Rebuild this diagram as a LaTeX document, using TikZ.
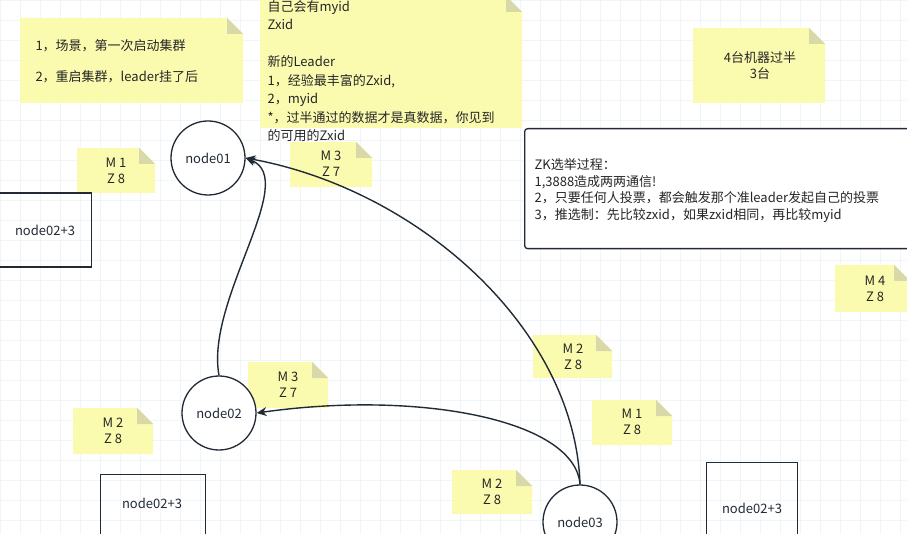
\documentclass[tikz,border=0pt]{standalone}
\usepackage{fontspec}
\setmainfont{Liberation Sans}
\newfontfamily\cjk{Noto Sans CJK SC}
\usetikzlibrary{arrows.meta}
\definecolor{noteY}{HTML}{FBFBB0}
\definecolor{foldG}{HTML}{D8D8A8}
\definecolor{lineC}{HTML}{222A36}
\definecolor{gridC}{HTML}{EEF6FA}
\tikzset{
  circ/.style={draw=lineC,line width=1.3pt,circle,minimum size=74pt,inner sep=0pt,font=\cjk\fontsize{13}{15}\selectfont,text=lineC},
  boxn/.style={draw=lineC,line width=1.3pt,font=\cjk\fontsize{13}{15}\selectfont,text=lineC},
  conn/.style={draw=lineC,line width=1.4pt,-{Stealth[length=10pt,width=9pt]}},
  ntext/.style={font=\cjk\fontsize{13}{16}\selectfont,text=black!85,align=center}
}
\newcommand{\stick}[4]{%
  \fill[noteY] (#1,#2) -- (#3-16,#2) -- (#3,#2+16) -- (#3,#4) -- (#1,#4) -- cycle;
  \fill[foldG] (#3-16,#2) -- (#3,#2+16) -- (#3-16,#2+16) -- cycle;}
\begin{document}
\begin{tikzpicture}[x=1pt,y=-1pt]
\useasboundingbox (0,0) rectangle (907,534);
\fill[white] (0,0) rectangle (907,534);
\draw[gridC,step=20pt] (0,0) grid (907,534);
% notes
\stick{20}{18}{243}{103}
\node[ntext,anchor=west,align=left] at (32,46) {1，场景，第一次启动集群};
\node[ntext,anchor=west,align=left] at (32,77) {2，重启集群，leader挂了后};
\stick{260}{-4}{522}{128}
\node[ntext,anchor=north west,align=left,font=\cjk\fontsize{13}{18.5}\selectfont] (txt) at (264,-3) {自己会有myid\\Zxid\\ \\新的Leader\\1，经验最丰富的Zxid,\\2，myid\\*，过半通过的数据才是真数据，你见到\\的可用的Zxid};
\stick{693}{28}{825}{103}
\node[ntext] at (760,66) {4台机器过半\\3台};
\stick{77}{148}{155}{193}  \node[ntext] at (116,171) {M 1\\Z 8};
\stick{290}{142}{372}{187} \node[ntext] at (331,164) {M 3\\Z 7};
\stick{835}{265}{910}{312} \node[ntext] at (875,289) {M 4\\Z 8};
\stick{533}{335}{612}{378} \node[ntext] at (573,357) {M 2\\Z 8};
\stick{248}{362}{328}{408} \node[ntext] at (288,385) {M 3\\Z 7};
\stick{73}{408}{153}{454}  \node[ntext] at (113,431) {M 2\\Z 8};
\stick{592}{400}{672}{445} \node[ntext] at (632,422) {M 1\\Z 8};
\stick{452}{470}{532}{514} \node[ntext] at (492,492) {M 2\\Z 8};
% boxes
\node[boxn,minimum width=93pt,minimum height=74pt] (b1) at (45,230) {node02+3};
\node[boxn,minimum width=105pt,minimum height=80pt,anchor=north west] (b2) at (100,474) {};
\node[text=lineC,font=\cjk\fontsize{13}{15}\selectfont] at (152,503) {node02+3};
\node[boxn,minimum width=91pt,minimum height=80pt,anchor=north west] (b3) at (706,462) {};
\node[text=lineC,font=\cjk\fontsize{13}{15}\selectfont] at (752,508) {node02+3};
\node[boxn,rounded corners=3pt,minimum width=386pt,minimum height=120pt,anchor=north west,fill=white] (zk) at (524,128) {};
\node[anchor=north west,align=left,font=\cjk\fontsize{13}{16.5}\selectfont,text=black!85] at (531,155) {ZK选举过程：\\1,3888造成两两通信!\\2，只要任何人投票，都会触发那个准leader发起自己的投票\\3，推选制：先比较zxid，如果zxid相同，再比较myid};
% circles
\node[circ,fill=white] (n1) at (208,158) {node01};
\node[circ,fill=white] (n2) at (219,413) {node02};
\node[circ,fill=white] (n3) at (580,522) {node03};
% connectors
\draw[conn] (n2.north) .. controls (205,300) and (300,180) .. (n1.east);
\draw[conn] (n3.north) .. controls (575,330) and (420,190) .. (n1.east);
\draw[conn] (n3.north) .. controls (575,420) and (420,390) .. (n2.east);
\end{tikzpicture}
\end{document}
